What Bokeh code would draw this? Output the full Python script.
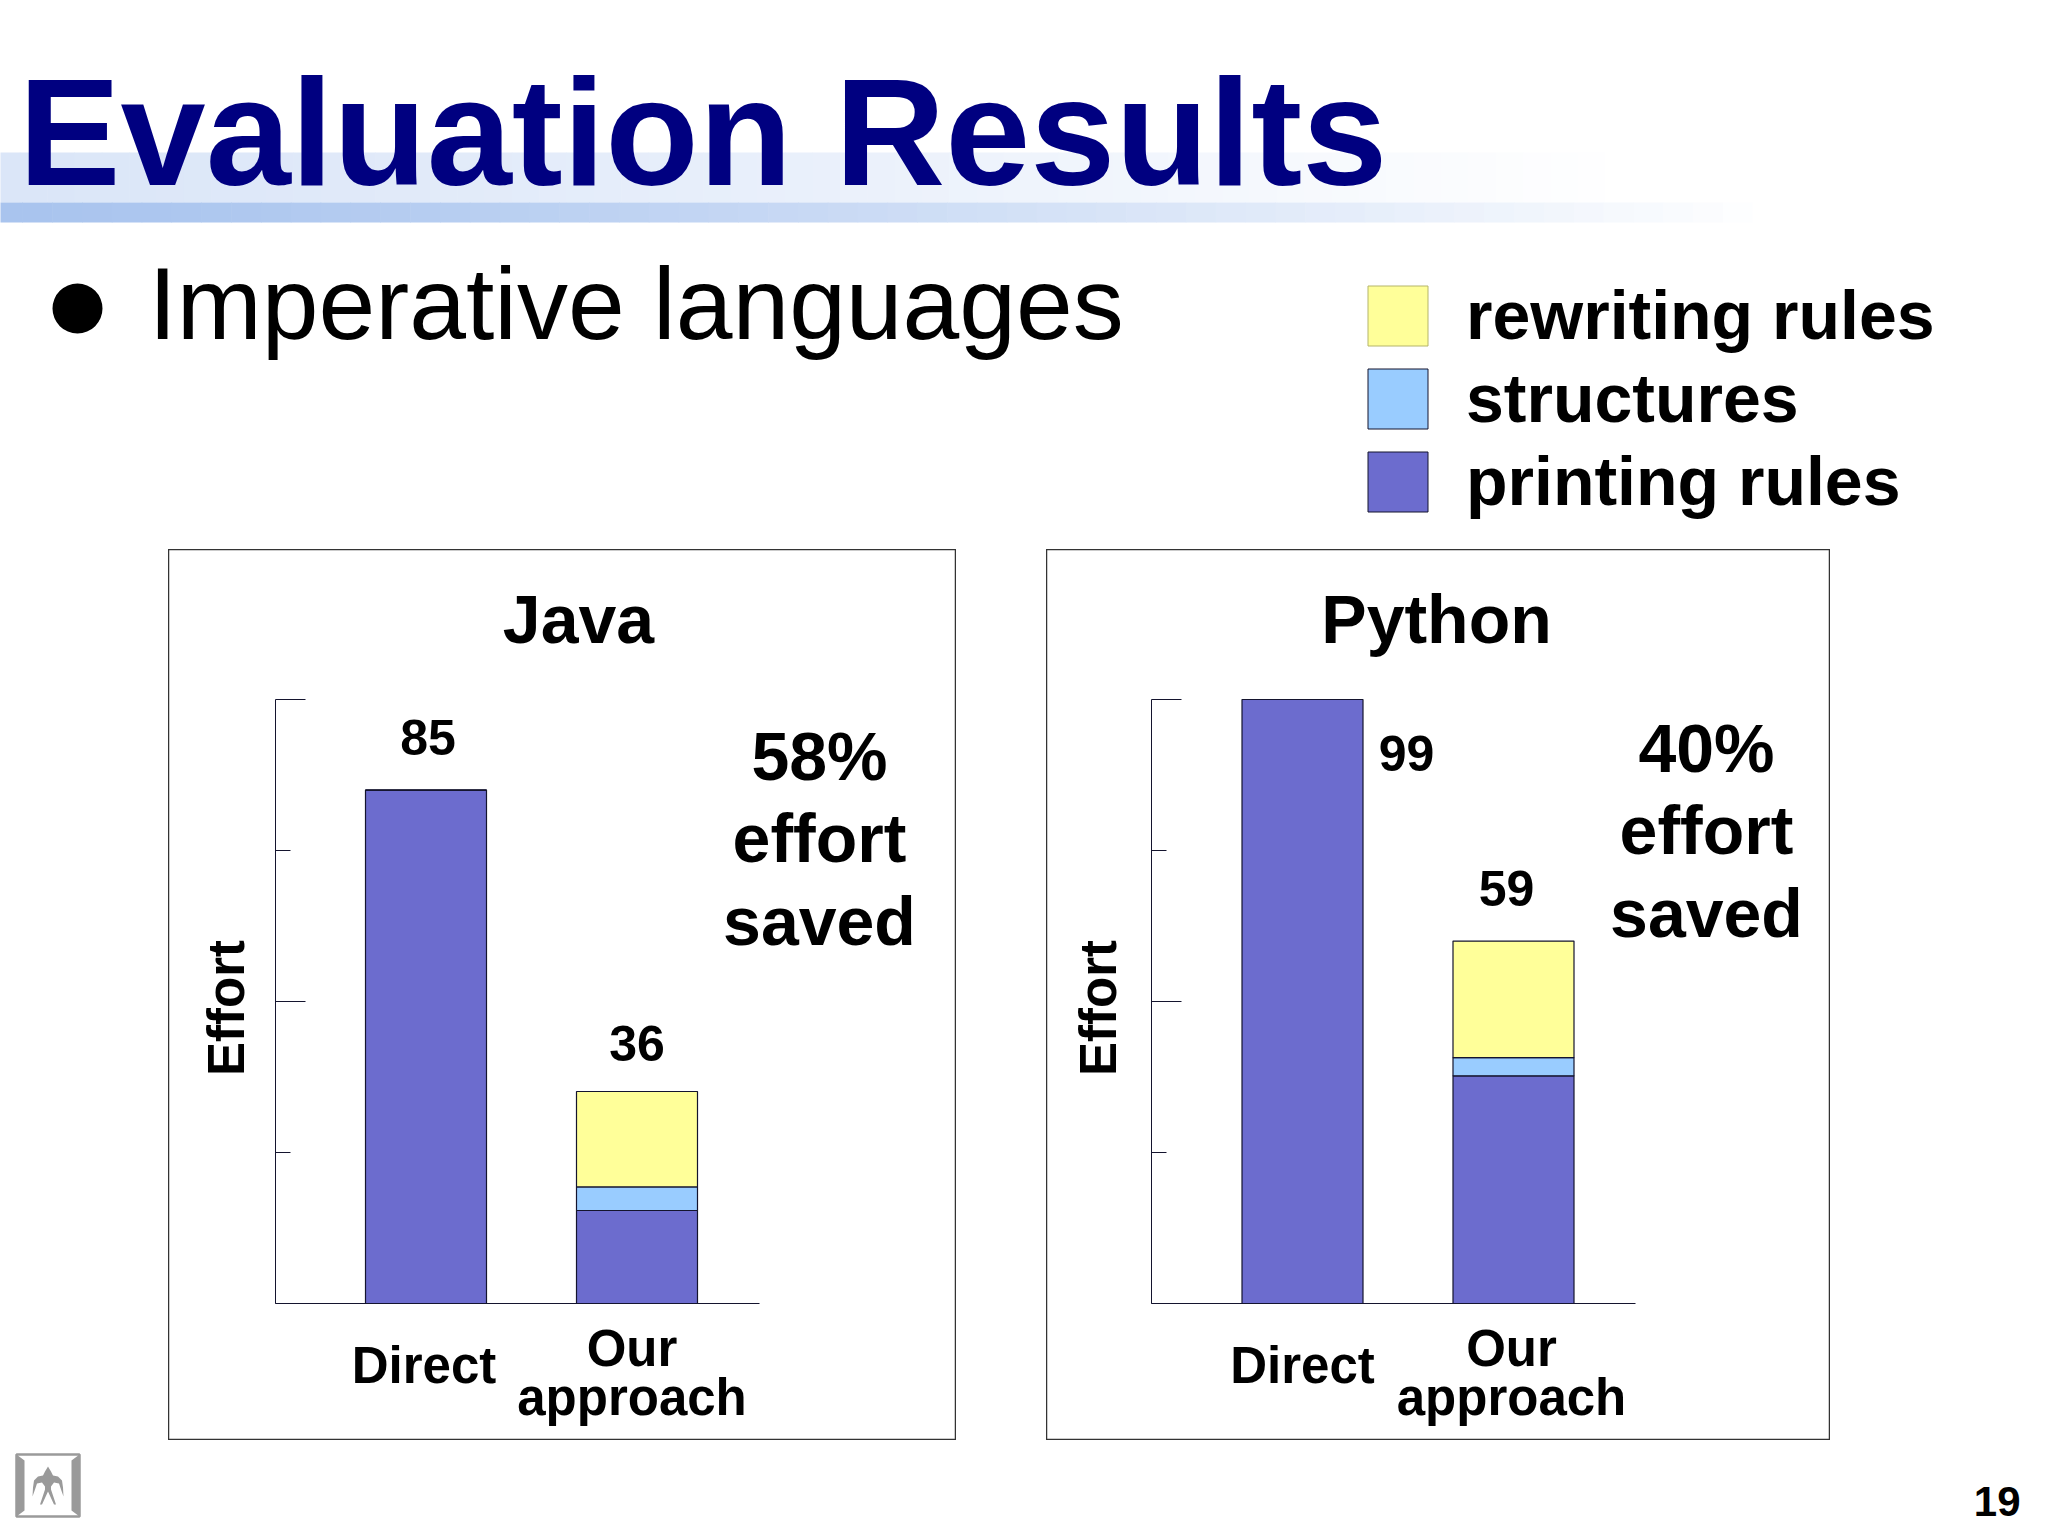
from bokeh.core.properties import value
from bokeh.embed import file_html
from bokeh.resources import INLINE
from bokeh.layouts import column, row
from bokeh.models import (ColumnDataSource, FixedTicker, Label, LabelSet, LinearAxis,
                          Legend, LegendItem, Range1d, Spacer)
from bokeh.plotting import figure

# ---- data ----
CATEGORIES = ["Direct", "Our\napproach"]
SERIES = ["printing rules", "structures", "rewriting rules"]
JAVA_PRINTING = [85, 15.4]
JAVA_STRUCTURES = [0, 3.9]
JAVA_REWRITING = [0, 15.8]
JAVA_LABELS = ["85", "36"]
PYTHON_PRINTING = [100, 37.7]
PYTHON_STRUCTURES = [0, 3.0]
PYTHON_REWRITING = [0, 19.3]
PYTHON_LABELS = ["99", "59"]
MAJOR_TICKS = [0, 50, 100]
MINOR_TICKS = [25, 75]
SLIDE_TITLE = "Evaluation Results"
BULLET = "Imperative languages"
JAVA_NOTE = "58%\neffort\nsaved"
PYTHON_NOTE = "40%\neffort\nsaved"
PAGE_NUMBER = "19"

COLORS = {"printing rules": "#6C6CCE", "structures": "#99CCFF", "rewriting rules": "#FFFF99"}
FONT = "Liberation Sans"
EDGE = "#14142e"
W = 2032
PX_PER_UNIT_X = 211.0
PX_PER_UNIT_Y = 6.04


def lerp_hex(a, b, t):
    ca = [int(a[i:i + 2], 16) for i in (1, 3, 5)]
    cb = [int(b[i:i + 2], 16) for i in (1, 3, 5)]
    return "#%02x%02x%02x" % tuple(round(x + (y - x) * t) for x, y in zip(ca, cb))


def canvas_fig(height, y_top, y_bottom):
    p = figure(width=W, height=height, x_range=Range1d(8, 8 + W), y_range=Range1d(y_bottom, y_top),
               output_backend="svg", toolbar_location=None, min_border=0)
    p.xaxis.visible = False
    p.yaxis.visible = False
    p.grid.visible = False
    p.outline_line_color = None
    return p


def band(p, y0, y1, color, x_end):
    n = 60
    lefts = [x_end * i / n for i in range(n)]
    rights = [x_end * (i + 1) / n + 0.6 for i in range(n)]
    cols = [lerp_hex(color, "#ffffff", (i / (n - 1)) ** 1.3) for i in range(n)]
    p.quad(left=lefts, right=rights, top=[y0] * n, bottom=[y1] * n, fill_color=cols, line_color=None)


def header():
    p = canvas_fig(549, 3, 552)
    band(p, 155, 205, "#dbe6f8", 1640)
    band(p, 205, 225, "#a9c4ee", 1790)
    p.text(x=[26], y=[134], text=[SLIDE_TITLE], text_font=value(FONT), text_font_style="bold",
           text_font_size="153px", text_color="#000080", text_baseline="middle")
    p.scatter(x=[85], y=[311], size=50, marker="circle", fill_color="black", line_color=None)
    p.text(x=[156], y=[306], text=[BULLET], text_font=value(FONT), text_font_size="102px",
           text_color="black", text_baseline="middle")
    items = []
    for name in SERIES[::-1]:
        line = "#b5b56a" if name == "rewriting rules" else "#14142e"
        r = p.quad(left=[-100], right=[-90], top=[-100], bottom=[-90], fill_color=COLORS[name], line_color=line)
        items.append(LegendItem(label=name, renderers=[r]))
    lg = Legend(items=items, location=(1360, 29), orientation="vertical", glyph_width=75, glyph_height=75,
                spacing=5, padding=0, margin=0, label_standoff=31, border_line_color=None,
                background_fill_alpha=0, label_text_font=FONT, label_text_font_style="bold",
                label_text_font_size="68px", label_text_color="black")
    p.add_layout(lg)
    return p


def chart(title, title_x, printing, structures, rewriting, labels, note, note_xy,
          width, standoff, origin_px, axis_px, label_dx, label_dy, cat_dx):
    height = 891
    x_start = -origin_px / PX_PER_UNIT_X
    base_px = 754  # height of the axis origin below the top of the panel
    p = figure(width=width, height=height,
               x_range=Range1d(x_start, x_start + width / PX_PER_UNIT_X),
               y_range=Range1d(-(height - base_px) / PX_PER_UNIT_Y, base_px / PX_PER_UNIT_Y),
               output_backend="svg", toolbar_location=None, min_border=0)
    p.grid.visible = False
    p.outline_line_color = "#333333"
    p.outline_line_width = 1.5

    src = ColumnDataSource(dict(x=list(range(len(CATEGORIES))), printing=printing,
                                structures=structures, rewriting=rewriting))
    p.vbar_stack(["printing", "structures", "rewriting"], x="x", width=121 / PX_PER_UNIT_X, source=src,
                 color=[COLORS[s] for s in SERIES], line_color=EDGE, line_width=1.2)

    axis_x = x_start + axis_px / PX_PER_UNIT_X
    xa = p.xaxis[0]
    xa.fixed_location = 0
    xa.bounds = (axis_x, axis_x + 484 / PX_PER_UNIT_X)
    xa.ticker = FixedTicker(ticks=list(range(len(CATEGORIES))))
    xa.major_label_overrides = {i: "" for i in range(len(CATEGORIES))}
    xa.major_tick_in = 0
    xa.major_tick_out = 0
    xa.minor_tick_line_color = None
    xa.axis_line_color = EDGE
    xa.axis_line_width = 1.2

    ya = p.yaxis[0]
    ya.fixed_location = axis_x
    ya.bounds = (0, 100)
    ya.ticker = FixedTicker(ticks=MAJOR_TICKS, minor_ticks=MINOR_TICKS)
    ya.major_label_overrides = {v: "" for v in MAJOR_TICKS}
    ya.major_tick_in = 30
    ya.major_tick_out = 0
    ya.minor_tick_in = 15
    ya.minor_tick_out = 0
    ya.major_tick_line_color = EDGE
    ya.minor_tick_line_color = EDGE
    ya.axis_line_color = EDGE

    # The label sits slightly below the centre of the drawn axis, so it has an axis of its own.
    label_axis = LinearAxis(fixed_location=axis_x, bounds=(-2.2, 100), ticker=FixedTicker(ticks=[]),
                            axis_line_color=None, major_tick_line_color=None, minor_tick_line_color=None,
                            axis_label="Effort", axis_label_text_font=FONT, axis_label_text_font_size="51px",
                            axis_label_text_font_style="bold", axis_label_text_color="black",
                            axis_label_standoff=standoff)
    p.add_layout(label_axis, "left")

    rows = dict(x=[], y=[], t=[], dx=[], dy=[])
    for i, cat in enumerate(CATEGORIES):
        lines = cat.split("\n")
        offsets = [-62] if len(lines) == 1 else [-45, -94]
        for line, off in zip(lines, offsets):
            rows["x"].append(i)
            rows["y"].append(0)
            rows["t"].append(line)
            rows["dx"].append(cat_dx[i])
            rows["dy"].append(off)
    p.add_layout(LabelSet(x="x", y="y", text="t", source=ColumnDataSource(rows), x_offset="dx", y_offset="dy",
                          text_align="center", text_baseline="middle", text_font=value(FONT),
                          text_font_size="51px", text_font_style="bold", text_color="black"))

    totals = [a + b + c for a, b, c in zip(printing, structures, rewriting)]
    val_src = ColumnDataSource(dict(x=list(range(len(totals))), y=totals, t=labels, dx=label_dx, dy=label_dy))
    p.add_layout(LabelSet(x="x", y="y", text="t", source=val_src, x_offset="dx", y_offset="dy", text_align="center",
                          text_baseline="middle", text_font=value(FONT), text_font_size="50px",
                          text_font_style="bold", text_color="black"))

    p.add_layout(Label(x=title_x, y=822, x_units="screen", y_units="screen", text=title,
                       text_align="center", text_baseline="middle", text_font=FONT, text_font_size="68px",
                       text_font_style="bold", text_color="black"))
    p.add_layout(Label(x=note_xy[0], y=note_xy[1], x_units="screen", y_units="screen", text=note,
                       text_align="center", text_baseline="middle", text_font=FONT, text_font_size="68px",
                       text_font_style="bold", text_color="black", text_line_height=1.08))
    return p


def footer():
    p = canvas_fig(88, 1444, 1532)
    gray = "#9a9a9a"
    left, right, top, bottom = 24, 87, 1458, 1520
    cx = (left + right) / 2
    p.quad(left=[left], right=[right], top=[top], bottom=[bottom], fill_color="white", line_color=gray, line_width=2.5)
    p.patches(xs=[[left, left + 8, left + 8, left], [right, right - 8, right - 8, right]],
              ys=[[top, top + 6, bottom - 6, bottom]] * 2, fill_color=gray, line_color=None)
    half = [(0, 12), (3, 17), (5, 21), (10, 22), (14, 26), (15, 33), (15.5, 42), (13, 35), (11, 29), (6, 28),
            (3, 32), (3, 35), (8, 50), (6, 50), (0, 37)]
    mirror = [(-dx, dy) for dx, dy in half[-2:0:-1]]
    outline = half + mirror
    p.patch(x=[cx + dx for dx, _ in outline], y=[top + dy for _, dy in outline], fill_color=gray, line_color=None)
    p.text(x=[2028], y=[1505], text=[PAGE_NUMBER], text_align="right", text_baseline="middle", text_font=value(FONT),
           text_font_size="42px", text_font_style="bold", text_color="black")
    return p


java = chart("Java", 410, JAVA_PRINTING, JAVA_STRUCTURES, JAVA_REWRITING, JAVA_LABELS, JAVA_NOTE,
             (651, 602), 788, 21, 257.5, 107, [2, 0], [53, 48], [-2, -5])
python = chart("Python", 390, PYTHON_PRINTING, PYTHON_STRUCTURES, PYTHON_REWRITING, PYTHON_LABELS, PYTHON_NOTE,
               (660, 610), 784, 25, 256, 104.5, [104, -7], [-54, 53], [0, -2])

layout = column(header(),
                row(Spacer(width=168, height=891), java, Spacer(width=90, height=891), python),
                footer(), spacing=0)
open("out.html", "w").write(file_html(layout, INLINE))
